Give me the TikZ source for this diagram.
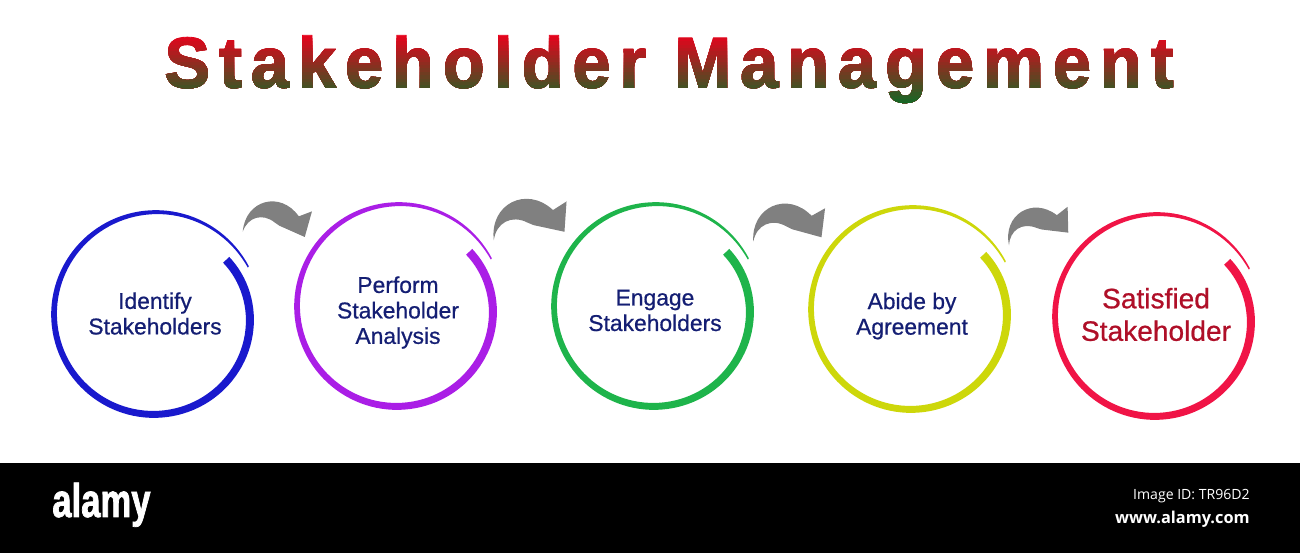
\documentclass[tikz,border=0pt]{standalone}
\usepackage{fontspec}
\setmainfont{Liberation Sans}
\newfontfamily\titlefont{Liberation Sans}[FakeStretch=0.95,LetterSpace=12.5,FakeBold=1.2]
\newfontfamily\stagefont{Liberation Sans}[FakeBold=0.7]
\newfontfamily\logofont{Liberation Sans}[FakeStretch=0.73,FakeBold=1.5]
\newfontfamily\stockfont{Open Sans}
\usetikzlibrary{arrows.meta,calc,positioning}

\definecolor{ringblue}{RGB}{25,25,205}
\definecolor{ringpurple}{RGB}{170,30,230}
\definecolor{ringgreen}{RGB}{30,180,75}
\definecolor{ringlime}{RGB}{205,215,10}
\definecolor{ringred}{RGB}{240,20,70}
\definecolor{textnavy}{RGB}{20,30,115}
\definecolor{goalred}{RGB}{175,15,40}
\definecolor{arrowgrey}{RGB}{128,128,128}
\definecolor{titlered}{RGB}{228,4,28}
\definecolor{titlegreen}{RGB}{18,105,38}

\newcommand\titlestyle{\titlefont\bfseries\fontsize{41}{41}\selectfont}

\tikzset{
	pics/handring/.style={code={
		\fill plot[domain=0:1, samples=120, variable=\t]
			({(ringr(\t)+ringw(\t)/2)*cos(ringa(\t))},{(ringr(\t)+ringw(\t)/2)*sin(ringa(\t))})
			-- plot[domain=1:0, samples=120, variable=\t]
			({(ringr(\t)-ringw(\t)/2)*cos(ringa(\t))},{(ringr(\t)-ringw(\t)/2)*sin(ringa(\t))}) -- cycle;
	}}
}

\begin{document}
\begin{tikzpicture}[x=0.02cm, y=0.02cm,
		declare function={ringr(\t)=100+5*\t*\t*\t-10*(1-\t)*(1-\t)*(1-\t)*(1-\t)*(1-\t)*(1-\t);
			ringw(\t)=8.5-4.5*\t-2.5*\t*\t*\t*\t*\t*\t; ringa(\t)=38-371*\t;},
		headline/.style={inner sep=0pt, font=\titlestyle},
		stage/.style={circle, minimum size=4cm, outer sep=0.4cm, align=center, text=textnavy, font=\stagefont\fontsize{13}{14.5}\selectfont},
		goal/.style={stage, text=goalred, font=\stagefont\fontsize{16}{18.5}\selectfont},
		flow/.style={fill=arrowgrey}]
	\useasboundingbox (0,0) rectangle (1300,553);

	\node[headline, text=titlered] (title) at (669,484) {Stakeholder Management};
	\foreach [evaluate=\i as \p using int(5*\i), evaluate=\i as \yc using 518-3.4*\i] \i in {1,...,20} {
		\begin{scope}
			\clip (0,\yc) rectangle (1300,440);
			\node[headline, text=titlegreen!\p!titlered] (title\i) at (title) {Stakeholder Management};
		\end{scope}
	}

	\foreach \name/\x/\y/\dy/\col/\kind/\txt in {s1/155/238/-1.5/ringblue/stage/{Identify\\Stakeholders},
			s2/398/246/5.5/ringpurple/stage/{Perform\\Stakeholder\\Analysis},
			s3/655/246/3.5/ringgreen/stage/{Engage\\Stakeholders},
			s4/912/243/6/ringlime/stage/{Abide by\\Agreement},
			s5/1156/236/-2.5/ringred/goal/{Satisfied\\Stakeholder}} {
		\node[\kind] (\name) at (\x,{\y-\dy}) {\txt};
		\pic[color=\col] at (\x,\y) {handring};
	}
	% swoosh arrows, pointed tail to head tip
	\foreach [count=\i] \a/\b/\ta/\ha in {s1/s2/43/141,s2/s3/37/139,s3/s4/35/139,s4/s5/36/137} {
		\coordinate (tail\i) at (\a.\ta);
		\coordinate (tip\i) at (\b.\ha);
		\fill[flow] (tail\i) to[bend left=70, looseness=1.4] ($(tail\i)!0.934!20.2:(tip\i)$)
			-- ($(tail\i)!1.159!21.25:(tip\i)$) -- (tip\i) -- ($(tail\i)!0.598!14:(tip\i)$)
			-- ($(tail\i)!0.535!20.8:(tip\i)$) to[bend right=55, looseness=1.2] (tail\i) -- cycle;
	}

	\fill[black] (0,0) rectangle (1300,90);
	\node[anchor=base west, inner sep=0pt, text=white, font=\logofont\bfseries\fontsize{27}{27}\selectfont] (logo) at (52,36) {alamy};
	\node[anchor=base east, inner sep=0pt, text=white, font=\stockfont\fontsize{8}{8}\selectfont] (imageid) at (1250,53) {Image ID: TR96D2};
	\node[anchor=base east, inner sep=0pt, text=white, font=\stockfont\bfseries\fontsize{9.3}{9.3}\selectfont] (weburl) at (1250,29) {www.alamy.com};
\end{tikzpicture}
\end{document}
